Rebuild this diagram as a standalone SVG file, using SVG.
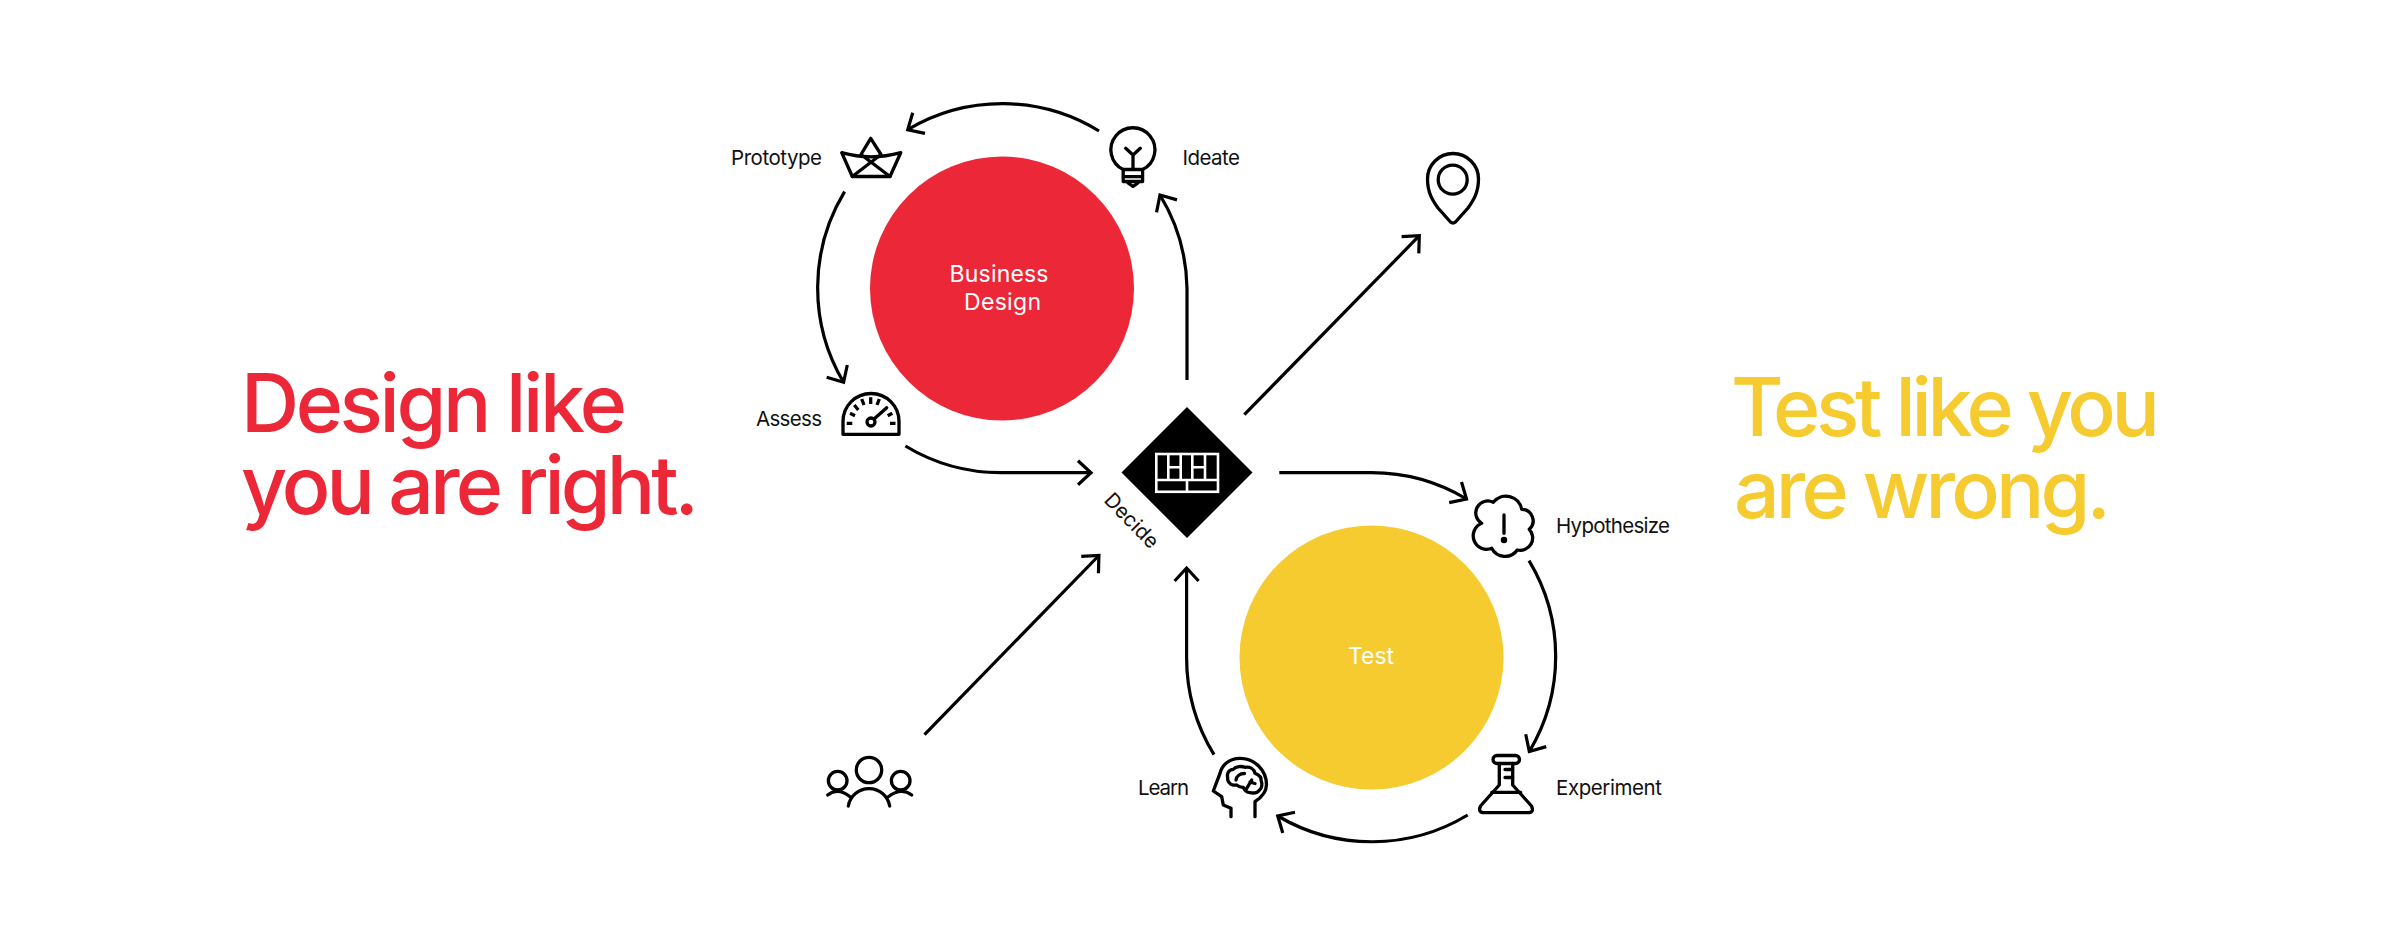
<svg xmlns="http://www.w3.org/2000/svg" width="2400" height="946" viewBox="0 0 2400 946">
<style>
text{font-family:"Inter","Liberation Sans",Arial,sans-serif}
.lb{font-size:20.5px;fill:#111}
.cw{font-size:23px;fill:#fff}
.hr{font-size:80.5px;fill:#ec2838;font-weight:450}
.hy{font-size:80.5px;fill:#f6cb30;font-weight:450}
.cn{fill:none;stroke:#000;stroke-width:3.2;marker-end:url(#ah)}
.ic{fill:none;stroke:#000;stroke-width:3.3;stroke-linecap:round;stroke-linejoin:round}
.wi{fill:none;stroke:#fff;stroke-width:2.6}
</style>
<defs>
<marker id="ah" markerUnits="userSpaceOnUse" markerWidth="40" markerHeight="40" viewBox="-20 -20 40 40" refX="0" refY="0" orient="auto"><path d="M-13,-12 L0,0 L-13,12" fill="none" stroke="#000" stroke-width="3.2" stroke-linejoin="miter"/></marker>
</defs>
<rect width="2400" height="946" fill="#fff"/>
<g id="headline-left"><text class="hr" x="241" y="431.5" textLength="386" lengthAdjust="spacing">Design like</text><text class="hr" x="241" y="513.5" textLength="458" lengthAdjust="spacing">you are right.</text></g>
<g id="headline-right"><text class="hy" x="1731" y="436" textLength="429" lengthAdjust="spacing">Test like you</text><text class="hy" x="1734" y="517.5" textLength="377" lengthAdjust="spacing">are wrong.</text></g>
<g id="connectors">
<path class="cn" d="M1099,131 A185,185 0 0 0 907.7,129.7"/>
<path class="cn" d="M844.6,191.7 A185,185 0 0 0 843.6,382.3"/>
<path class="cn" d="M905.4,446 A185,185 0 0 0 1002,472.7 H1091"/>
<path class="cn" d="M1187,380 V288.5 A185,185 0 0 0 1160,195"/>
<path class="cn" d="M1244.3,414.7 L1419.3,235.7"/>
<path class="cn" d="M1279.3,472.7 H1371.5 A185,185 0 0 1 1466.5,499"/>
<path class="cn" d="M1529,560.7 A185,185 0 0 1 1529.3,751.6"/>
<path class="cn" d="M1467.7,815 A185,185 0 0 1 1277.7,816"/>
<path class="cn" d="M1214,754.6 A185,185 0 0 1 1186.6,657.5 V568"/>
<path class="cn" d="M924.5,734.6 L1098.9,555.5"/>
</g>
<g id="business-design"><circle cx="1002" cy="288.5" r="132" fill="#ec2838"/><text class="cw" x="949.5" y="281.5" textLength="99">Business</text><text class="cw" x="964" y="310" textLength="77">Design</text></g>
<g id="test"><circle cx="1371.5" cy="657.5" r="132" fill="#f6cb30"/><text class="cw" x="1348" y="664" textLength="46">Test</text></g>
<g id="decide">
<path d="M1187,407 L1252.5,472.5 L1187,538 L1121.5,472.5Z" fill="#000"/>
<rect class="wi" x="1156.3" y="454" width="61.7" height="37.8"/>
<path class="wi" d="M1155,480 H1219 M1187,480 V493 M1168.3,453 V480 M1180.7,453 V480 M1192.3,453 V480 M1205,453 V480 M1168.3,467.3 H1180.7 M1192.3,467.3 H1205"/>
<text class="lb" transform="translate(1103,501) rotate(46)" textLength="68" lengthAdjust="spacing">Decide</text>
</g>
<g id="prototype" class="ic">
<path d="M841.7,152.7 Q871,161 900.7,152.7 L890,176.5 H852.3 Z"/>
<path d="M861,154.5 L870.7,138.3 L881,154.5 M861,154.5 L890,176.5 M881,154.5 L852.3,176.5"/>
<text class="lb" x="731" y="165" textLength="91" stroke="none" fill="#111">Prototype</text>
</g>
<g id="ideate" class="ic">
<path d="M1123.2,169.5 V181.5 H1142.6 V169.5 M1123.2,176.7 H1142.6 M1128,183 L1133,186.5 L1138,183"/>
<path d="M1123.2,169.5 A22,22 0 1 1 1142.6,169.5 H1123.2"/>
<path d="M1133,169 V155 M1125.7,148.3 L1133,155 L1140.3,148.3"/>
<text class="lb" x="1182.5" y="165" textLength="57.5" stroke="none" fill="#111">Ideate</text>
</g>
<g id="assess" class="ic">
<path d="M843,434.3 V421.5 A28,28 0 0 1 899,421.5 V434.3 Z"/>
<circle cx="871" cy="422" r="4"/>
<path d="M874,419 L886.7,407.7"/>
<path stroke-linecap="butt" d="M846.7,423.3 H852.3 M850,413.3 L855,415.7 M854.3,405 L858.3,410 M861.7,399 L864,405 M870.7,397.3 V404 M879.3,399 L877,405 M892.3,413.3 L887.7,415.7 M895.5,423.3 H890"/>
<text class="lb" x="756" y="425.5" textLength="66" stroke="none" fill="#111">Assess</text>
</g>
<g id="pin" class="ic">
<path d="M1438,208 C1433,201 1427.5,193 1427.5,179 A25.5,25.5 0 0 1 1478.5,179 C1478.5,193 1473,201 1468,208 L1455.5,222 Q1453,224 1450.5,222 Z"/>
<circle cx="1452.7" cy="179.7" r="14.5"/>
</g>
<g id="hypothesize" class="ic">
<path d="M1481.7,523.3 A12,12 0 0 1 1493.3,502.3 A16,16 0 0 1 1521.7,509.3 A11.5,11.5 0 0 1 1529.3,529.3 A12.5,12.5 0 0 1 1517.3,550 A15,15 0 0 1 1491.7,548.3 A13,13 0 0 1 1481.7,523.3 Z"/>
<path d="M1504,515 V533.3"/>
<circle cx="1504" cy="540" r="1.6" fill="#000"/>
<text class="lb" x="1556" y="533.3" textLength="114" stroke="none" fill="#111">Hypothesize</text>
</g>
<g id="experiment" class="ic">
<rect x="1493" y="755.5" width="26.5" height="8" rx="4"/>
<path d="M1499.3,763.5 V785 L1480.5,806 Q1477.5,812.7 1484,812.7 H1528 Q1534.5,812.7 1531.5,806 L1512.7,785 V763.5"/>
<path d="M1491.7,792.3 H1520.7 M1505,769.5 H1512.7 M1505,777.5 H1512.7"/>
<text class="lb" x="1556" y="795" textLength="106" stroke="none" fill="#111">Experiment</text>
</g>
<g id="learn" class="ic">
<path d="M1255,816.7 V801.7 C1262,797 1266.5,791 1266.5,784.5 A26.5,26.5 0 0 0 1240,758.3 C1229,758.3 1222,765 1220,773.3 L1213.3,791 L1221.7,796.7 L1223.3,805 L1231,808.3 V816.7"/>
<path d="M1227.7,778.3 C1226.5,773 1229,769.5 1233.3,769.3 C1236,766 1242,766 1245,767.3 C1250,766.5 1254,769 1255,773.3 C1259,775 1261.5,777 1261,780 C1262.5,784 1262,788 1260,789.3 C1258,792.5 1254,793.5 1250,792.7 C1247,792.5 1244.5,790 1243.3,787.3 C1241,787.5 1238.5,786.5 1236.7,785 C1234,785.5 1230.5,785 1230,783.3 C1228,782 1227.5,780 1227.7,778.3 Z M1244.5,773.5 C1240,773.5 1236.5,776 1236,780 M1251.7,780 L1246.7,788.3 M1255,783.5 L1250,782"/>
<text class="lb" x="1138" y="795" textLength="51" stroke="none" fill="#111">Learn</text>
</g>
<g id="people" class="ic">
<circle cx="869" cy="770" r="12.7"/>
<circle cx="837.7" cy="780.7" r="9.3"/>
<circle cx="900.7" cy="780.7" r="9.3"/>
<path d="M848.3,806 A21,21 0 0 1 889.7,806 M827.7,795 Q838,787 850,796.7 M911.7,795 Q901,787 888.3,796.7"/>
</g>
</svg>
